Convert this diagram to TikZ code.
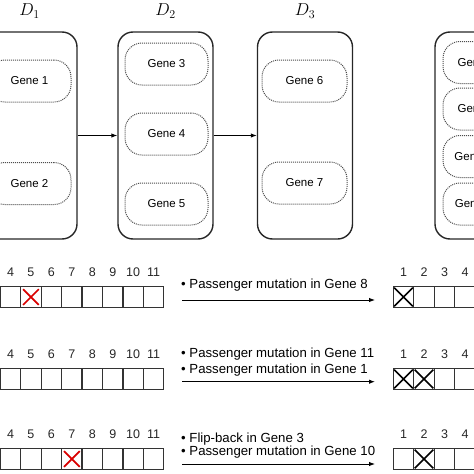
\documentclass[tikz,border=0pt]{standalone}
\usepackage{fontspec}
\setmainfont{Liberation Sans}
\usetikzlibrary{positioning,arrows.meta,shapes.misc}

\tikzset{
  dbox/.style={draw=black!85, line width=1.4pt, rounded corners=15pt, minimum width=95pt, minimum height=207pt, inner sep=0pt},
  dlabel/.style={inner sep=0pt, font=\fontsize{17}{20}\selectfont},
  gene/.style={draw=black!70, densely dotted, line width=1pt, rounded corners=17pt, minimum width=83pt, minimum height=42pt, inner sep=0pt, font=\fontsize{11.5}{13}\selectfont},
  cell/.style={draw=black!80, line width=1.2pt, minimum width=20.45pt, minimum height=20.5pt, inner sep=0pt},
  num/.style={inner sep=0pt, font=\fontsize{12.5}{14}\selectfont, text=black!85},
  mut/.style={inner sep=0pt, anchor=base west, font=\fontsize{13.2}{15}\selectfont},
  arr/.style={-{Latex[length=6pt,width=4.5pt]}, line width=1pt},
  redx/.style={cross out, draw=red!85!black, line width=1.7pt, minimum size=14pt, inner sep=0pt},
  blackx/.style={cross out, draw=black, line width=1.6pt, minimum size=17pt, inner sep=0pt},
}

\begin{document}
\begin{tikzpicture}[x=1pt, y=-1pt]
  \useasboundingbox (0,0) rectangle (474,474);
  \clip (0,0) rectangle (474,474);

  % Driver gene sets
  \node[dbox] (d1) at (29.5,135.5) {};
  \node[dbox] (d2) at (165.5,135.5) {};
  \node[dbox] (d3) at (305,135.5) {};
  \node[dbox] (d4) at (482.5,135.5) {};
  \node[dlabel, above=13pt of d1] (l1) {$D_1$};
  \node[dlabel, above=13pt of d2] (l2) {$D_2$};
  \node[dlabel, above=13pt of d3] (l3) {$D_3$};

  % Genes
  \node[gene] (g1) at (29.5,81) {Gene 1};
  \node[gene] (g2) at (29.5,183.5) {Gene 2};
  \node[gene] (g3) at (166.5,64) {Gene 3};
  \node[gene] (g4) at (166.5,134) {Gene 4};
  \node[gene] (g5) at (166.5,204) {Gene 5};
  \node[gene, minimum width=85pt] (g6) at (304.5,81) {Gene 6};
  \node[gene, minimum width=85pt] (g7) at (304.5,183) {Gene 7};
  \node[gene, minimum width=67pt] (g8) at (476.5,62.5) {Gene 8};
  \node[gene, minimum width=67pt] (g9) at (476.5,109) {Gene 9};
  \node[gene, minimum width=67pt] (g10) at (476.5,156.5) {Gene 10};
  \node[gene, minimum width=67pt] (g11) at (476.5,204) {Gene 11};

  \draw[arr] (d1) -- (d2);
  \draw[arr] (d2) -- (d3);

  % Mutation states
  \foreach \r/\y in {1/297, 2/379, 3/459} {
    \foreach \k in {1,...,11} {
      \node[cell] (L\r-\k) at ({10.5+(\k-4)*20.45},\y) {};
      \node[num, above=9.5pt of L\r-\k] {\k};
      \node[cell] (R\r-\k) at ({403.5+(\k-1)*20.5},\y) {};
      \node[num, above=9.5pt of R\r-\k] {\k};
    }
  }
  \node[redx] (x1) at (L1-5) {};
  \node[redx] (x2) at (L3-7) {};
  \node[blackx] (x3) at (R1-1) {};
  \node[blackx] (x4) at (R2-1) {};
  \node[blackx] (x5) at (R2-2) {};
  \node[blackx] (x6) at (R3-2) {};

  % Events
  \node[mut] (t1) at (181,288.5) {\textbullet\ Passenger mutation in Gene 8};
  \node[mut] (t2) at (181,357.5) {\textbullet\ Passenger mutation in Gene 11};
  \node[mut] (t3) at (181,373) {\textbullet\ Passenger mutation in Gene 1};
  \node[mut] (t4) at (181,442) {\textbullet\ Flip-back in Gene 3};
  \node[mut] (t5) at (181,455.5) {\textbullet\ Passenger mutation in Gene 10};
  \coordinate (a1) at (182,300);
  \coordinate (b1) at (375,300);
  \coordinate (a2) at (182,381.7);
  \coordinate (b2) at (375,381.7);
  \coordinate (a3) at (182,464);
  \coordinate (b3) at (375,464);
  \draw[arr] (a1) -- (b1);
  \draw[arr] (a2) -- (b2);
  \draw[arr] (a3) -- (b3);
\end{tikzpicture}
\end{document}
